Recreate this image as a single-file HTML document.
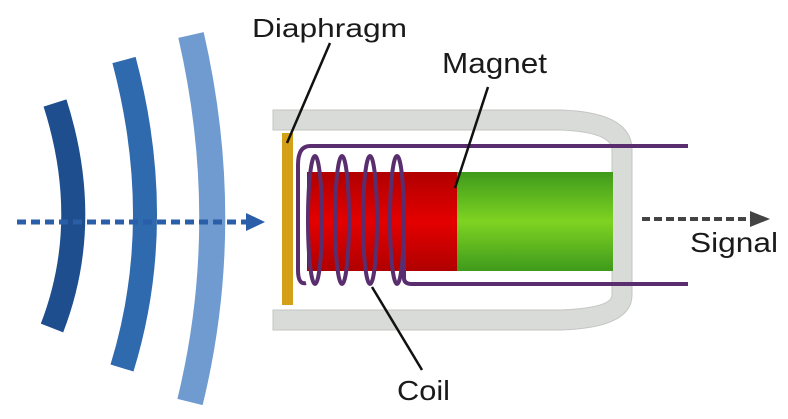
<!DOCTYPE html>
<html><head><meta charset="utf-8"><style>
html,body{margin:0;padding:0;background:#fff;}
svg{display:block;}
text{font-family:"Liberation Sans",sans-serif;fill:#1a1a1a;}
</style></head><body>
<svg width="788" height="419" viewBox="0 0 788 419" xmlns="http://www.w3.org/2000/svg">
<defs>
<linearGradient id="red" x1="0" y1="0" x2="0" y2="1">
<stop offset="0" stop-color="#b00000"/><stop offset="0.5" stop-color="#e40000"/><stop offset="1" stop-color="#b00000"/>
</linearGradient>
<linearGradient id="green" x1="0" y1="0" x2="0" y2="1">
<stop offset="0" stop-color="#3f9a1c"/><stop offset="0.5" stop-color="#7ed321"/><stop offset="1" stop-color="#3f9a1c"/>
</linearGradient>
</defs>
<path d="M55,103 Q93,222 52,328" fill="none" stroke="#1f4e8f" stroke-width="24"/>
<path d="M124,60 Q167,222 122,368" fill="none" stroke="#2f69ae" stroke-width="24"/>
<path d="M191,35 Q234,222 190,402" fill="none" stroke="#6f9bd0" stroke-width="26"/>
<line x1="17" y1="222" x2="248" y2="222" stroke="#2a5ea8" stroke-width="5" stroke-dasharray="9,5"/>
<polygon points="246,213 265,222 246,231" fill="#2a5ea8"/>
<path d="M273,110 L560,110 Q632,112 632,150 L632,295 Q632,328 560,330 L273,330 L273,310 L560,310 Q612,308 612,295 L612,150 Q612,132 560,130 L273,130 Z" fill="#d9dbd8" stroke="#c4c6c3" stroke-width="1"/>
<rect x="282" y="133" width="11" height="172" fill="#d4a017"/>
<rect x="307" y="172" width="150" height="99" fill="url(#red)"/>
<rect x="457" y="172" width="156" height="99" fill="url(#green)"/>
<path d="M688,146 L310,146 Q298,146 298,165 L298,270 Q298,285 306,283" fill="none" stroke="#5a2d6e" stroke-width="4"/>
<g fill="none" stroke="#5a2d6e" stroke-width="4">
<ellipse cx="315" cy="220" rx="7" ry="64"/>
<ellipse cx="342" cy="220" rx="7" ry="64"/>
<ellipse cx="370" cy="220" rx="7" ry="64"/>
<ellipse cx="397" cy="220" rx="7" ry="64"/>
<path d="M404,220 L404,278 Q404,284 412,284 L688,284"/>
</g>
<g stroke="#111" stroke-width="2.5">
<line x1="330" y1="43" x2="287" y2="143"/>
<line x1="488" y1="87" x2="455" y2="188"/>
<line x1="372" y1="287" x2="422" y2="370"/>
</g>
<text x="252" y="37" font-size="26" textLength="155" lengthAdjust="spacingAndGlyphs">Diaphragm</text>
<text x="442" y="73" font-size="29" textLength="105" lengthAdjust="spacingAndGlyphs">Magnet</text>
<text x="397" y="400" font-size="28" textLength="53" lengthAdjust="spacingAndGlyphs">Coil</text>
<text x="690" y="252" font-size="28" textLength="88" lengthAdjust="spacingAndGlyphs">Signal</text>
<line x1="642" y1="219" x2="752" y2="219" stroke="#444" stroke-width="4" stroke-dasharray="8,4"/>
<polygon points="750,211 770,219 750,227" fill="#444"/>
</svg>
</body></html>
